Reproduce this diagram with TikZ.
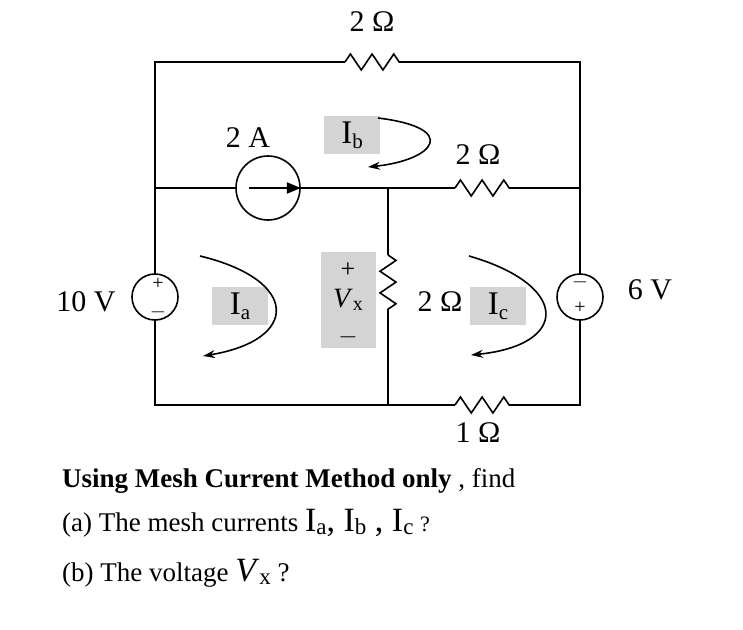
\documentclass[tikz,border=0pt]{standalone}
\usepackage{fontspec}
\setmainfont{Liberation Serif}
\usetikzlibrary{calc,positioning,arrows.meta,decorations.pathmorphing}

\begin{document}
\begin{tikzpicture}[x=1pt,y=-1pt,
    wire/.style={line width=2.2pt},
    res/.style={line width=1.6pt, decorate, decoration={zigzag, amplitude=8pt, segment length=21.67pt}},
    src/.style={circle, draw, line width=1.6pt, fill=white, inner sep=0pt},
    lbl/.style={font=\fontsize{30}{30}\selectfont, inner sep=1pt},
    pm/.style={font=\fontsize{20}{20}\selectfont, inner sep=0pt},
    cur/.style={fill=black!17, inner sep=0pt, minimum width=56pt, minimum height=38pt, font=\fontsize{33}{33}\selectfont},
    mesh/.style={line width=1.6pt, -{Stealth[length=12pt,width=8pt]}},
    txt/.style={font=\fontsize{27}{30}\selectfont, anchor=west, inner sep=0pt}
  ]
  \useasboundingbox (0,0) rectangle (743,629);
  % corners and junctions
  \coordinate (tl) at (155,62);  \coordinate (tr) at (580,62);
  \coordinate (ml) at (155,188); \coordinate (mr) at (580,188);
  \coordinate (mm) at (388,188); \coordinate (bm) at (388,405);
  \coordinate (bl) at (155,405); \coordinate (br) at (580,405);
  % resistor ends
  \coordinate (r1a) at (345,62);  \coordinate (r1b) at (410,62);
  \coordinate (r2a) at (455,188); \coordinate (r2b) at (520,188);
  \coordinate (r3a) at (388,255); \coordinate (r3b) at (388,320);
  \coordinate (r4a) at (455,405); \coordinate (r4b) at (520,405);

  % gray label boxes first
  \node[fill=black!17, minimum width=55pt, minimum height=96pt] (vxbox) at (348,300) {};
  \node[pm, font=\fontsize{26}{26}\selectfont] (vp) at (348,270) {+};
  \node[font=\fontsize{28}{28}\selectfont] (vx) at (348,300) {\textit{V}\raisebox{-3pt}{\fontsize{20}{20}\selectfont x}};
  \node[pm, font=\fontsize{26}{26}\selectfont] (vm) at (348,337) {$-$};

  % wires
  \draw[wire] (r1a) -- (tl) -- (bl) -- (r4a);
  \draw[wire] (r4b) -- (br) -- (tr) -- (r1b);
  \draw[wire] (ml) -- (r2a);
  \draw[wire] (r2b) -- (mr);
  \draw[wire] (mm) -- (r3a);
  \draw[wire] (r3b) -- (bm);
  \draw[res] (r1a) -- (r1b);
  \draw[res] (r2a) -- (r2b);
  \draw[res] (r3a) -- (r3b);
  \draw[res] (r4a) -- (r4b);

  % sources
  \node[src, minimum size=46pt] (v10) at (155,297) {};
  \node[pm] at (158,284) {+};
  \node[pm] at (158,312) {$-$};
  \node[src, minimum size=46pt] (v6) at (580,297) {};
  \node[pm] at (580,282) {$-$};
  \node[pm] at (580,308) {+};
  \node[src, minimum size=64pt] (cs) at (268,188) {};
  \draw[line width=2.2pt, -{Triangle[length=14pt,width=11pt]}] ($(cs.west)+(14,0)$) -- (cs.east);

  % labels
  \node[lbl] (lr1) at (372,22) {2 Ω};
  \node[lbl] (lr2) at (478,155) {2 Ω};
  \node[lbl] (lr3) at (440,302) {2 Ω};
  \node[lbl] (lr4) at (478,433) {1 Ω};
  \node[lbl] (l2a) at (248,138) {2 A};
  \node[lbl] (l10) at (86,302) {10 V};
  \node[lbl] (l6)  at (650,290) {6 V};
  \node[cur] (ia) at (240,306) {I\raisebox{-5pt}{\fontsize{21}{21}\selectfont a}};
  \node[cur] (ib) at (352,135) {I\raisebox{-5pt}{\fontsize{21}{21}\selectfont b}};
  \node[cur] (ic) at (498,306) {I\raisebox{-5pt}{\fontsize{21}{21}\selectfont c}};

  % mesh arrows
  \draw[mesh] (200,256) .. controls (300,280) and (300,340) .. (203,356);
  \draw[mesh] (378,118) .. controls (460,128) and (435,160) .. (368,167);
  \draw[mesh] (469,256) .. controls (570,285) and (570,345) .. (471,355);

  % question
  \node[txt] (q1) at (62,481) {\textbf{Using Mesh Current Method only} , find};
  \node[txt] (q2) at (62,523) {(a) The mesh currents {\fontsize{34}{34}\selectfont I\raisebox{-3pt}{\fontsize{23}{23}\selectfont a}, I\raisebox{-3pt}{\fontsize{23}{23}\selectfont b} , I\raisebox{-3pt}{\fontsize{23}{23}\selectfont c}} {\fontsize{22}{22}\selectfont ?}};
  \node[txt] (q3) at (62,573) {(b) The voltage {\fontsize{34}{34}\selectfont\textit{V}\raisebox{-3pt}{\fontsize{23}{23}\selectfont x}} ?};
\end{tikzpicture}
\end{document}
